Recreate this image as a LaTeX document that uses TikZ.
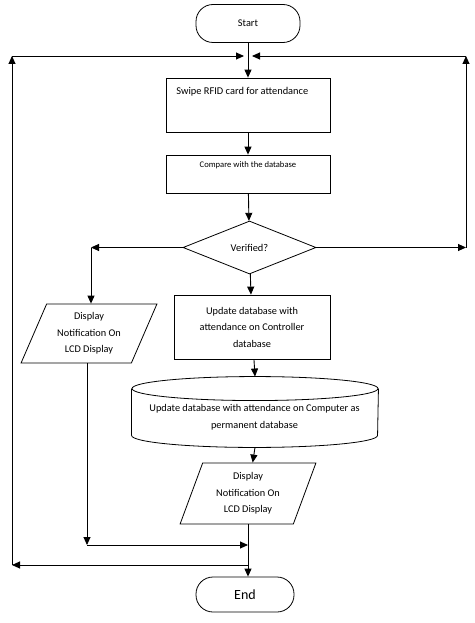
\documentclass[tikz,border=0pt]{standalone}
\usepackage{fontspec}
\setmainfont{Carlito}
\usetikzlibrary{arrows.meta,shapes.geometric}
\begin{document}
\begin{tikzpicture}[x=1pt,y=-1pt,
  line width=0.9pt,
  arr/.style={-{Triangle[length=8pt,width=7pt]}},
  txt/.style={font=\fontsize{10.3}{16.5}\selectfont, align=center, inner sep=0pt},
  term/.style={draw, rounded corners=17pt, inner sep=0pt, line width=0.8pt},
  box/.style={draw, rectangle, inner sep=0pt, line width=0.8pt},
  para/.style={draw, trapezium, trapezium stretches=true, inner sep=0pt, line width=0.8pt, font=\fontsize{10.3}{16.5}\selectfont, align=center}
]
\useasboundingbox (0,0) rectangle (474,623);

% terminals
\node[term, minimum width=104pt, minimum height=38pt, txt] (start) at (248,23.5) {Start};
\node[term, minimum width=98pt, minimum height=35pt, font=\fontsize{14}{16}\selectfont] (end) at (245,594.5) {End};

% process boxes
\node[box, minimum width=164pt, minimum height=54pt] (swipe) at (248,105) {};
\node[inner sep=0pt, font=\fontsize{10.4}{12}\selectfont, anchor=west] (swipetext) at (176,92) {Swipe RFID card for attendance};
\node[box, minimum width=164pt, minimum height=38pt] (compare) at (248,174) {};
\node[inner sep=0pt, font=\fontsize{8.6}{10}\selectfont] (comparetext) at (248,165) {Compare with the database};

% decision
\node[draw, diamond, aspect=2.5, minimum width=133pt, minimum height=53pt, inner sep=0pt, line width=0.8pt, font=\fontsize{10.4}{12}\selectfont] (verified) at (249.5,247.5) {Verified?};

% update controller
\node[box, minimum width=156pt, minimum height=64pt, txt] (update) at (252,327) {Update database with\\attendance on Controller\\database};

% cylinder
\node[minimum width=246pt, minimum height=70pt, inner sep=0pt] (cyl) at (255,412) {};
\node[txt] (cyltext) at (254.5,417) {Update database with attendance on Computer as\\permanent database};
\draw[line width=0.8pt] ([yshift=-12pt]cyl.north west) -- ([yshift=12pt]cyl.south west)
  arc[start angle=180, end angle=360, x radius=123pt, y radius=12pt]
  -- ([yshift=-12pt]cyl.north east);
\draw[line width=0.8pt] ([yshift=-12pt]cyl.north) ellipse[x radius=123pt, y radius=12pt];

% parallelograms
\node[para, trapezium left angle=65.4, trapezium right angle=114.6, minimum width=136pt, minimum height=59pt] (leftdisp) at (89,333.5) {Display\\Notification On\\LCD Display};
\node[para, trapezium left angle=69.3, trapezium right angle=110.7, minimum width=136pt, minimum height=61pt] (lowdisp) at (248,493.5) {Display\\Notification On\\LCD Display};

% coordinates for the loops
\coordinate (jl) at (244,56);
\coordinate (jr) at (252,56);
\coordinate (tl) at (12,56);
\coordinate (tr) at (466,56);
\coordinate (mr) at (466,247.5);
\coordinate (ml) at (91,247.5);
\coordinate (bl1) at (87,545);
\coordinate (bm1) at (248,545);
\coordinate (bm2) at (248,565);
\coordinate (bl2) at (12,565);

% main flow
\draw[arr] (start) -- (swipe);
\draw[arr] (swipe) -- (compare);
\draw[arr] (compare) -- (verified);
\draw[arr] (verified) -- (update);
\draw[arr] (update) -- (cyl.north);
\draw[arr] (cyl.south) -- (lowdisp);
\draw[arr] (lowdisp.south) -- (lowdisp.south |- end.north);

% left branch
\draw[arr] (verified.west) -- (ml);
\draw[arr] (ml) -- (ml |- leftdisp.north);
\draw[arr] (bl1 |- leftdisp.south) -- (bl1);
\draw[arr] (bl1) -- (bm1);

% right loop
\draw[arr] (verified.east) -- (mr);
\draw[arr] (mr) -- (tr);
\draw[arr] (tr) -- (jr);

% left loop
\draw[arr] (bm2) -- (bl2);
\draw[arr] (bl2) -- (tl);
\draw[arr] (tl) -- (jl);
\end{tikzpicture}
\end{document}
